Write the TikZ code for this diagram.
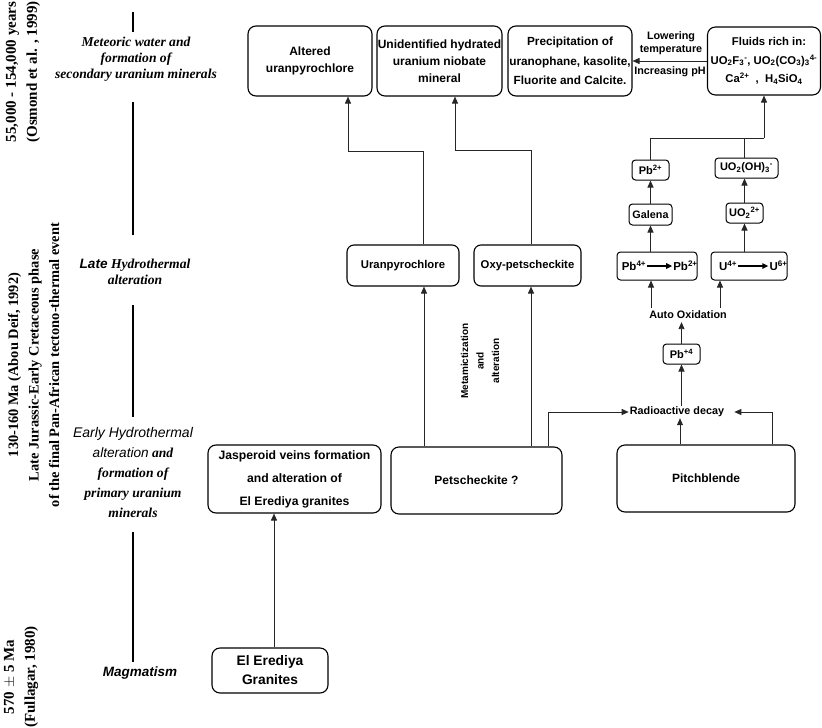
\documentclass[tikz,border=0pt]{standalone}
\usepackage{fontspec}
\setmainfont{Liberation Serif}
\setsansfont{Liberation Sans}
\usetikzlibrary{arrows.meta}
\begin{document}
\begin{tikzpicture}[x=1pt,y=-1pt,
  box/.style={draw, line width=1.1pt, rounded corners=8pt, align=center, font=\sffamily\bfseries\fontsize{12}{17}\selectfont, inner sep=0pt},
  sbox/.style={draw, line width=1.0pt, rounded corners=3.5pt, align=center, font=\sffamily\bfseries\fontsize{11}{13}\selectfont, inner sep=0pt},
  stxt/.style={font=\sffamily\bfseries\fontsize{11.5}{13}\selectfont, inner sep=1pt},
  lbl/.style={font=\sffamily\bfseries\fontsize{10.8}{13}\selectfont, inner sep=1pt, align=center},
  arr/.style={-{Triangle[length=7pt,width=6pt]}, line width=0.9pt, draw=black!85},
  ln/.style={line width=0.9pt, draw=black!85},
  tl/.style={line width=1.1pt},
  per/.style={font=\rmfamily\bfseries\itshape\fontsize{13.6}{16}\selectfont, align=center, inner sep=0pt},
  age/.style={font=\rmfamily\bfseries\fontsize{15}{21}\selectfont, align=center, rotate=90, inner sep=0pt}]
\useasboundingbox (0,0) rectangle (822,728);

% ages (left column)
\node[age] (age1) at (23,72) {55,000 - 154,000 years\\(Osmond et al. , 1999)};
\node[age, font=\rmfamily\bfseries\fontsize{14.4}{20.5}\selectfont] (age2) at (33.5,365) {130-160 Ma (Abou Deif, 1992)\\Late Jurassic-Early Cretaceous phase\\of the final Pan-African tectono-thermal event};
\node[age] (age3) at (21,677) {570 $\pm$ 5 Ma\\(Fullagar, 1980)};

% period labels
\node[per] (meteo) at (136,59) {Meteoric water and\\formation of\\secondary uranium minerals};
\node[per] (late) at (135,272) {{\sffamily Late} Hydrothermal\\alteration};
\node[per, font=\rmfamily\bfseries\itshape\fontsize{13.6}{20}\selectfont] (early) at (133,472) {{\sffamily\mdseries\fontsize{14}{20}\selectfont Early Hydrothermal}\\{\sffamily\mdseries alteration} and\\formation of\\primary uranium\\minerals};
\node[per, font=\sffamily\bfseries\itshape\fontsize{13.5}{16}\selectfont] (magm) at (140,673) {Magmatism};

% timeline segments
\coordinate (t1) at (133,12);  \coordinate (t2) at (133,32);
\coordinate (t3) at (133,102); \coordinate (t4) at (133,235);
\coordinate (t5) at (133,305); \coordinate (t6) at (133,417);
\coordinate (t7) at (133,532); \coordinate (t8) at (133,662);
\draw[tl] (t1) -- (t2);
\draw[tl] (t3) -- (t4);
\draw[tl] (t5) -- (t6);
\draw[tl] (t7) -- (t8);

% top boxes
\node[box, minimum width=124pt, minimum height=70pt] (altered) at (310,61) {Altered\\uranpyrochlore};
\node[box, minimum width=125pt, minimum height=70pt] (unident) at (439.5,61) {Unidentified hydrated\\uranium niobate\\mineral};
\node[box, minimum width=124pt, minimum height=70pt, font=\sffamily\bfseries\fontsize{11.8}{19.5}\selectfont] (precip) at (570,61) {Precipitation of\\uranophane, kasolite,\\Fluorite and Calcite.};
\node[box, minimum width=113pt, minimum height=68pt, font=\sffamily\bfseries\fontsize{11.3}{18.5}\selectfont] (fluids) at (764,61) {\hspace*{10pt}Fluids rich in:\\UO\textsubscript{2}F\textsubscript{3}\textsuperscript{-}, UO\textsubscript{2}(CO\textsubscript{3})\textsubscript{3}\textsuperscript{4-}\\Ca\textsuperscript{2+}\ \ ,\ \ H\textsubscript{4}SiO\textsubscript{4}};

\draw[arr] (fluids.west) -- (precip.east);
\node[lbl] (lowt) at (671,43) {Lowering\\temperature};
\node[lbl] (incph) at (670,72) {Increasing pH};

% middle boxes
\node[box, rounded corners=7pt, minimum width=112pt, minimum height=41pt, font=\sffamily\bfseries\fontsize{11.3}{14}\selectfont] (uranpy) at (403,265.5) {Uranpyrochlore};
\node[box, rounded corners=7pt, minimum width=107pt, minimum height=41pt, font=\sffamily\bfseries\fontsize{11.3}{14}\selectfont] (oxy) at (527.5,265.5) {Oxy-petscheckite};

\coordinate (bA) at (348,151);
\coordinate (bB) at (455,150);
\draw[arr] (uranpy.north -| 423,0) |- (bA) -- (altered.south -| bA);
\draw[arr] (oxy.north -| 531,0) |- (bB) -- (unident.south -| bB);

% bottom boxes
\node[box, minimum width=171pt, minimum height=67pt] (petsch) at (476.5,480.5) {Petscheckite ?};
\node[box, minimum width=173pt, minimum height=68pt, font=\sffamily\bfseries\fontsize{12.2}{23}\selectfont] (jasper) at (294.5,479) {Jasperoid veins formation\\and alteration of\\El Erediya granites};
\node[box, minimum width=178pt, minimum height=67pt] (pitch) at (706,478.5) {Pitchblende};
\node[box, minimum width=116pt, minimum height=45pt, font=\sffamily\bfseries\fontsize{13.8}{19}\selectfont] (granites) at (270,670.5) {El Erediya\\Granites};

\draw[arr] (granites.north -| 274,0) -- (jasper.south -| 274,0);
\draw[arr] (petsch.north -| 424,0) -- (uranpy.south -| 424,0);
\draw[arr] (petsch.north -| 531,0) -- (oxy.south -| 531,0);
\node[font=\sffamily\bfseries\fontsize{10}{15.5}\selectfont, align=center, rotate=90, inner sep=0pt] (metam) at (480,361) {Metamictization\\and\\alteration};

% radioactive chain
\node[lbl] (radio) at (677,412) {Radioactive decay};
\draw[arr] (petsch.north -| 548,0) |- (radio.west);
\draw[arr] (pitch.north -| 680,0) -- (radio.south -| 680,0);
\draw[arr] (pitch.north -| 772,0) |- ([xshift=9pt]radio.east);

\node[sbox, minimum width=37pt, minimum height=20pt] (pb4) at (681.5,354) {Pb\textsuperscript{+4}};
\draw[arr] (radio.north -| pb4) -- (pb4.south);
\node[lbl, inner sep=3pt] (autoox) at (688,315) {Auto Oxidation};
\draw[arr] (pb4.north) -- (autoox.south -| pb4);

\node[sbox, minimum width=80pt, minimum height=28pt] (pbbox) at (657,266) {};
\node[stxt] (pba) at (634,266) {Pb\textsuperscript{4+}};
\node[stxt] (pbb) at (685.5,266) {Pb\textsuperscript{2+}};
\draw[-{Triangle[length=6pt,width=5.5pt]}, line width=1.4pt] (pba) -- (pbb);

\node[sbox, minimum width=76pt, minimum height=28pt] (ubox) at (749,266) {};
\node[stxt] (ua) at (728,266) {U\textsuperscript{4+}};
\node[stxt] (ub) at (778.5,266) {U\textsuperscript{6+}};
\draw[-{Triangle[length=6pt,width=5.5pt]}, line width=1.4pt] (ua) -- (ub);

\draw[arr] (autoox.north -| 651,0) -- (pbbox.south -| 651,0);
\draw[arr] (autoox.north -| 720,0) -- (ubox.south -| 720,0);

\node[sbox, minimum width=43pt, minimum height=21pt, font=\sffamily\bfseries\fontsize{10.8}{13}\selectfont] (galena) at (650.5,214.5) {Galena};
\node[sbox, minimum width=37pt, minimum height=20pt] (uo2) at (744.5,213) {UO\textsubscript{2}\textsuperscript{2+}};
\node[sbox, minimum width=37pt, minimum height=20pt] (pb2) at (650.5,170) {Pb\textsuperscript{2+}};
\node[sbox, minimum width=63pt, minimum height=20pt] (uooh) at (746.5,168) {UO\textsubscript{2}(OH)\textsubscript{3}\textsuperscript{-}};

\draw[arr] (pbbox.north -| galena) -- (galena.south);
\draw[arr] (galena.north) -- (pb2.south);
\draw[arr] (ubox.north -| uo2) -- (uo2.south);
\draw[arr] (uo2.north) -- (uooh.south -| uo2);

\coordinate (join) at (764,138);
\draw[ln] (pb2.north) |- (join);
\draw[ln] (uooh.north -| 744,0) -- (join -| 744,0);
\draw[arr] (join) -- (fluids.south -| join);
\end{tikzpicture}
\end{document}
